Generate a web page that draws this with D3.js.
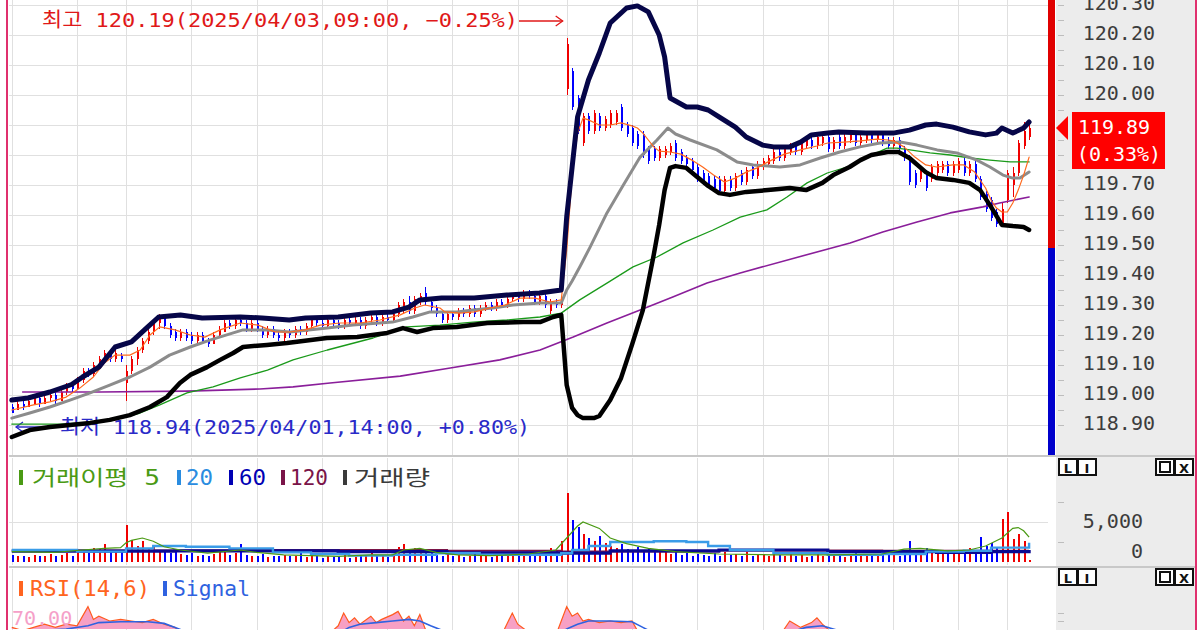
<!DOCTYPE html>
<html>
<head>
<meta charset="utf-8">
<script src="https://cdn.jsdelivr.net/npm/d3@7"></script>
<style>
body { margin: 0; background: #fff; }
svg { display: block; }
</style>
</head>
<body>
<div id="chart"></div>
<script>
// 5-minute sessions shown on the chart
var sessions = [
  {date: "2025/04/01", start: "14:00", count: 21},
  {date: "2025/04/02", start: "09:00", count: 81},
  {date: "2025/04/03", start: "09:00", count: 81},
  {date: "2025/04/04", start: "09:00", count: 5}
];

var open = [
  118.96,118.95,118.97,118.96,118.97,118.99,118.97,118.99,119.00,118.98,
  119.01,119.03,119.02,119.05,119.08,119.07,119.10,119.12,119.14,119.12,
  119.13,119.04,119.08,119.12,119.15,119.18,119.21,119.24,119.26,119.23,
  119.21,119.19,119.21,119.20,119.18,119.20,119.18,119.17,119.20,119.21,
  119.24,119.23,119.25,119.24,119.22,119.24,119.22,119.20,119.22,119.20,
  119.19,119.21,119.20,119.22,119.21,119.23,119.25,119.24,119.23,119.25,
  119.24,119.23,119.25,119.24,119.25,119.23,119.25,119.26,119.24,119.26,
  119.25,119.27,119.29,119.31,119.28,119.31,119.34,119.31,119.29,119.27,
  119.25,119.27,119.26,119.28,119.27,119.29,119.27,119.29,119.30,119.29,
  119.31,119.30,119.32,119.33,119.32,119.34,119.33,119.31,119.33,119.28,
  119.31,119.30,120.02,120.08,119.99,119.84,119.93,119.88,119.93,119.89,
  119.90,119.91,119.96,119.90,119.89,119.87,119.87,119.82,119.82,119.79,
  119.80,119.81,119.84,119.81,119.79,119.78,119.76,119.74,119.73,119.72,
  119.72,119.68,119.72,119.69,119.74,119.71,119.76,119.73,119.76,119.77,
  119.78,119.81,119.79,119.81,119.83,119.81,119.83,119.85,119.83,119.84,
  119.86,119.82,119.86,119.83,119.85,119.87,119.84,119.85,119.87,119.85,
  119.87,119.85,119.83,119.85,119.82,119.79,119.74,119.72,119.74,119.72,
  119.74,119.75,119.77,119.74,119.75,119.78,119.74,119.77,119.72,119.67,
  119.65,119.61,119.57,119.65,119.70,119.74,119.83,119.86
];
var high = [
  118.97,118.98,118.98,118.99,119.00,119.00,119.00,119.01,119.01,119.02,
  119.04,119.04,119.06,119.09,119.09,119.11,119.13,119.15,119.15,119.15,
  119.14,119.10,119.13,119.16,119.19,119.22,119.25,119.27,119.26,119.24,
  119.22,119.22,119.22,119.21,119.21,119.21,119.19,119.21,119.23,119.25,
  119.25,119.26,119.26,119.25,119.25,119.25,119.23,119.23,119.23,119.21,
  119.22,119.22,119.23,119.23,119.24,119.26,119.26,119.25,119.26,119.26,
  119.25,119.26,119.26,119.26,119.26,119.26,119.27,119.27,119.27,119.27,
  119.28,119.31,119.32,119.33,119.33,119.34,119.36,119.32,119.30,119.28,
  119.28,119.28,119.29,119.29,119.30,119.30,119.30,119.31,119.31,119.32,
  119.32,119.33,119.34,119.34,119.35,119.35,119.34,119.34,119.34,119.32,
  119.32,119.33,120.19,120.09,120.00,119.94,119.94,119.95,119.94,119.93,
  119.95,119.95,119.97,119.91,119.90,119.88,119.88,119.83,119.83,119.83,
  119.83,119.84,119.85,119.82,119.80,119.79,119.77,119.75,119.74,119.73,
  119.73,119.73,119.73,119.74,119.75,119.76,119.77,119.78,119.79,119.80,
  119.82,119.82,119.83,119.84,119.84,119.85,119.86,119.86,119.87,119.87,
  119.87,119.86,119.87,119.87,119.88,119.88,119.87,119.88,119.88,119.88,
  119.88,119.86,119.86,119.86,119.83,119.80,119.75,119.76,119.75,119.77,
  119.78,119.78,119.78,119.78,119.79,119.79,119.78,119.78,119.73,119.68,
  119.66,119.62,119.64,119.75,119.76,119.85,119.91,119.91
];
var low = [
  118.94,118.95,118.95,118.96,118.97,118.96,118.97,118.98,118.97,118.98,
  119.00,119.01,119.02,119.04,119.06,119.06,119.09,119.11,119.11,119.11,
  119.11,118.98,119.07,119.10,119.14,119.17,119.20,119.22,119.22,119.19,
  119.18,119.18,119.18,119.17,119.17,119.17,119.16,119.17,119.19,119.21,
  119.22,119.22,119.23,119.21,119.21,119.21,119.19,119.19,119.19,119.18,
  119.18,119.19,119.19,119.20,119.20,119.22,119.23,119.22,119.22,119.23,
  119.22,119.22,119.23,119.23,119.22,119.22,119.24,119.23,119.23,119.24,
  119.24,119.26,119.27,119.27,119.27,119.30,119.30,119.28,119.26,119.24,
  119.24,119.25,119.25,119.26,119.26,119.26,119.26,119.28,119.28,119.28,
  119.29,119.29,119.31,119.31,119.31,119.32,119.30,119.30,119.29,119.27,
  119.29,119.29,120.00,119.95,119.87,119.83,119.87,119.87,119.88,119.88,
  119.89,119.90,119.88,119.86,119.83,119.82,119.79,119.77,119.78,119.78,
  119.79,119.80,119.78,119.77,119.76,119.74,119.71,119.70,119.69,119.68,
  119.67,119.67,119.68,119.68,119.70,119.70,119.72,119.72,119.75,119.76,
  119.77,119.78,119.78,119.80,119.80,119.80,119.82,119.82,119.82,119.83,
  119.81,119.81,119.82,119.82,119.84,119.83,119.83,119.84,119.84,119.84,
  119.83,119.82,119.82,119.81,119.78,119.70,119.69,119.71,119.68,119.71,
  119.73,119.74,119.73,119.73,119.74,119.73,119.73,119.71,119.65,119.61,
  119.58,119.56,119.56,119.64,119.66,119.73,119.82,119.85
];
var close = [
  118.94,118.97,118.96,118.98,118.99,118.97,118.99,119.00,118.98,119.01,
  119.03,119.02,119.05,119.08,119.07,119.10,119.12,119.14,119.12,119.14,
  119.12,119.08,119.12,119.15,119.18,119.21,119.24,119.26,119.23,119.20,
  119.19,119.21,119.19,119.18,119.20,119.18,119.17,119.20,119.22,119.24,
  119.23,119.25,119.24,119.22,119.24,119.22,119.20,119.22,119.20,119.19,
  119.21,119.20,119.22,119.21,119.23,119.25,119.24,119.23,119.25,119.24,
  119.23,119.25,119.24,119.25,119.23,119.25,119.26,119.24,119.26,119.25,
  119.27,119.30,119.31,119.28,119.32,119.33,119.31,119.29,119.27,119.25,
  119.27,119.26,119.28,119.27,119.29,119.27,119.29,119.30,119.29,119.31,
  119.30,119.32,119.33,119.32,119.34,119.33,119.31,119.33,119.30,119.31,
  119.30,119.32,120.17,119.96,119.88,119.93,119.88,119.94,119.89,119.92,
  119.94,119.94,119.89,119.87,119.84,119.83,119.80,119.78,119.79,119.82,
  119.82,119.83,119.79,119.78,119.77,119.75,119.72,119.71,119.70,119.69,
  119.68,119.72,119.69,119.73,119.71,119.75,119.73,119.77,119.78,119.79,
  119.81,119.79,119.82,119.83,119.81,119.84,119.85,119.83,119.86,119.86,
  119.82,119.85,119.83,119.86,119.87,119.84,119.86,119.87,119.85,119.87,
  119.84,119.83,119.85,119.82,119.79,119.71,119.70,119.75,119.69,119.76,
  119.77,119.77,119.74,119.77,119.78,119.74,119.77,119.72,119.66,119.62,
  119.59,119.57,119.62,119.74,119.74,119.84,119.88,119.89
];
var volume = [
  900,700,800,600,900,700,800,1000,700,900,1100,800,1200,1500,1100,1700,1600,2200,1300,1500,1200,
  4600,
  2800,2000,2600,1800,2100,1500,1300,1100,1200,
  1000,900,1100,800,900,700,1000,1200,1500,900,1100,2200,900,800,700,1000,600,800,700,900,
  800,700,1300,600,900,700,500,800,600,700,900,500,600,800,700,1200,900,700,600,1000,
  1900,2300,1200,1800,1500,1400,1100,900,800,1000,700,900,600,800,1000,700,900,600,800,700,
  1000,900,1200,800,1100,900,1300,1000,1800,1400,2600,
  8600,
  5200,4400,3500,3000,2600,3200,2400,2000,1800,2200,1600,1500,1900,1400,1600,1200,1300,1500,
  1000,1200,900,1100,800,1000,900,700,1100,800,1300,900,1000,700,1200,800,900,1000,700,1100,
  900,800,1000,700,900,600,800,1000,700,900,800,1000,600,900,1100,700,800,1000,900,1200,
  900,1100,800,1300,2600,1400,1000,1800,1200,1000,1300,1100,1500,1200,1400,1700,1500,3100,
  2000,2400,1900,5400,6300,2900,3500,2600,300
];
var prevClose = 119.49;

// indicator lines, as [bar index, value]
var ma5 = [[0,118.95],[4,118.967],[7,118.977],[10,118.993],[12.5,119.023],[15,119.06],[17,119.107],[19,119.133],
  [21.7,119.133],[23.6,119.15],[25.4,119.2],[27.2,119.227],[30,119.217],[32.8,119.2],[35.5,119.193],[38.3,119.217],
  [42,119.24],[45.3,119.233],[48.4,119.21],[51.1,119.21],[53.9,119.217],[56.7,119.233],[60.3,119.24],[64,119.24],
  [67.7,119.25],[71.4,119.267],[74.1,119.29],[75.9,119.3],[78.7,119.29],[79.6,119.277],[82.4,119.273],[85.1,119.277],
  [87.9,119.29],[90.7,119.3],[93.4,119.323],[96.2,119.323],[98.9,119.31],[101,119.317],[102,119.483],[103,119.733],
  [104,119.873],[105,119.923],[106,119.917],[108,119.9],[110,119.9],[112,119.907],[114,119.897],[115,119.89],
  [116,119.873],[117,119.85],[118,119.827],[119,119.813],[121,119.81],[123,119.803],[125,119.783],[127,119.76],
  [129,119.733],[131,119.71],[133,119.723],[135,119.743],[137,119.757],[139,119.777],[142,119.803],[145,119.817],
  [148,119.83],[150,119.84],[153,119.843],[156,119.847],[159,119.853],[161,119.85],[162,119.847],[164,119.827],
  [166,119.793],[168,119.767],[170,119.76],[173,119.767],[175,119.767],[177,119.743],[179,119.69],[180,119.65],
  [181,119.623],[182,119.61],[183,119.61],[184,119.64],[185,119.683],[186,119.733],[187,119.793]];
var ma20 = [[0,118.923],[3.3,118.94],[7,118.96],[10.7,118.983],[14.4,119.007],[18,119.033],[21.7,119.06],[25.4,119.093],
  [29,119.133],[32.8,119.16],[36.4,119.183],[40.7,119.207],[42.5,119.217],[46.9,119.217],[51.1,119.21],[58,119.223],
  [62.7,119.233],[70,119.243],[73.7,119.26],[76.9,119.277],[81.8,119.277],[84.8,119.283],[88.4,119.29],[92.1,119.3],
  [97.1,119.307],[101,119.307],[102,119.35],[103,119.38],[104.5,119.43],[106.3,119.493],[109.4,119.607],[112.2,119.693],
  [115.5,119.793],[118.6,119.85],[120.6,119.89],[122,119.87],[124.7,119.85],[129.6,119.817],[133.3,119.777],[136.3,119.767],
  [141.2,119.76],[144.9,119.767],[148.6,119.79],[152.2,119.81],[155.9,119.827],[159.6,119.84],[163.3,119.843],[166.4,119.833],
  [170.1,119.817],[173.7,119.807],[177.4,119.783],[179.8,119.76],[182.2,119.733],[184,119.723],[185.3,119.723],[187,119.743]];
var bandUpper = [[0,118.983],[3,118.99],[7,119.01],[11,119.035],[13,119.06],[16,119.093],[19,119.16],[22,119.177],
  [25,119.227],[27,119.26],[31,119.267],[35,119.257],[42,119.26],[46,119.257],[51,119.25],[54,119.257],[60,119.26],
  [66,119.273],[70,119.277],[73,119.293],[75,119.317],[79,119.323],[85,119.323],[91,119.333],[97,119.34],[101,119.35],
  [102,119.593],[103,119.76],[104,119.927],[106,120.05],[108,120.14],[110,120.24],[113,120.29],[115,120.297],
  [117,120.277],[119,120.2],[120,120.127],[121,119.99],[124,119.96],[126,119.96],[128,119.95],[130,119.927],
  [133,119.893],[135,119.86],[138,119.833],[140,119.827],[143,119.827],[145,119.843],[147,119.867],[150,119.873],
  [152,119.877],[157,119.873],[162,119.873],[165,119.883],[168,119.9],[170,119.903],[173,119.893],[176,119.877],
  [179,119.867],[181,119.873],[182,119.89],[184,119.873],[186,119.89],[187,119.91]];
var bandLower = [[0,118.86],[3.3,118.883],[7,118.893],[10.7,118.9],[14.4,118.907],[18,118.917],[21.7,118.933],
  [25.4,118.96],[28.5,118.993],[30.9,119.04],[32.8,119.067],[35.9,119.093],[38.3,119.117],[40.7,119.14],[42.5,119.16],
  [46.9,119.167],[50.6,119.173],[57.9,119.19],[63.5,119.193],[69,119.207],[71.9,119.223],[74.5,119.21],[77.4,119.223],
  [81.8,119.227],[87.4,119.24],[94,119.243],[97.1,119.243],[99.5,119.26],[101,119.267],[102,119.033],[103,118.957],
  [104,118.933],[105,118.923],[107,118.923],[108,118.93],[110,118.983],[112,119.057],[114,119.167],[116,119.283],
  [118,119.467],[119,119.567],[120,119.683],[121,119.757],[122,119.763],[124,119.757],[126,119.727],[128,119.697],
  [130,119.673],[132,119.667],[135,119.677],[139,119.683],[143,119.69],[146,119.683],[149,119.707],[151,119.733],
  [154,119.76],[156,119.783],[158,119.8],[161,119.81],[163,119.81],[165,119.79],[168,119.743],[170,119.723],
  [173,119.717],[176,119.707],[178,119.683],[180,119.627],[182,119.567],[184,119.563],[186,119.56],[187,119.55]];
var ma60 = [[0,118.903],[9,118.903],[18,118.913],[23.6,118.94],[27.2,118.967],[32.2,119.007],[37,119.027],[42,119.057],
  [47,119.083],[51.7,119.117],[58,119.15],[66.4,119.19],[72.6,119.227],[78.7,119.233],[84.8,119.243],[91,119.25],
  [97.1,119.26],[101,119.273],[104.4,119.317],[109.4,119.373],[114.2,119.427],[118.6,119.46],[123.4,119.507],
  [128.9,119.55],[133.9,119.593],[138.8,119.617],[142.5,119.66],[146.2,119.707],[149.9,119.74],[153.5,119.76],
  [157.2,119.793],[160.9,119.823],[162.7,119.823],[165.1,119.817],[168.8,119.807],[172.5,119.8],[176.2,119.79],
  [179.8,119.783],[183.5,119.777],[187,119.777]];
var ma120 = [[2,119.01],[16.2,119.01],[32.2,119.013],[45.6,119.02],[51.7,119.027],[58.5,119.04],[71.4,119.063],
  [80.6,119.09],[89.7,119.117],[97.1,119.15],[103.2,119.193],[109.4,119.24],[115.5,119.283],[121.5,119.327],
  [127.8,119.373],[133.9,119.407],[154.1,119.507],[160.1,119.543],[166.4,119.577],[172.5,119.607],[178.5,119.627],
  [181.6,119.64],[187,119.66]];

// volume moving averages
var volMa5 = [[0,1300],[8,1200],[13,1500],[17,1700],[20,1800],[21,2400],[22,2700],[24,3000],[26,2600],[28,1900],
  [31,1500],[36,1100],[42,1500],[45,1200],[50,900],[55,800],[60,700],[66,900],[70,900],[72,1500],[75,1700],
  [78,1200],[82,900],[88,800],[95,1000],[100,1500],[102,3000],[104,4500],[105,5000],[108,4200],[110,3000],
  [113,2300],[117,1700],[122,1300],[130,1000],[140,900],[150,900],[160,1000],[164,1600],[167,1700],[172,1400],
  [176,1500],[179,2000],[182,3000],[184,4200],[185,4300],[186,3900],[187,3100]];
var volMa20 = [[0,1500],[12,1300],[21,1700],[26,2000],[32,1900],[40,1700],[48,1200],[55,1000],[62,800],[70,900],
  [78,1100],[86,900],[95,900],[101,1100],[103,1500],[106,2000],[110,2500],[118,2600],[124,2500],[128,2000],
  [132,1500],[140,1100],[150,900],[160,1000],[168,1300],[175,1400],[180,1800],[187,2400]];
var volMa60 = [[0,1350],[30,1400],[60,1300],[80,1150],[101,1100],[110,1400],[130,1500],[150,1300],[170,1200],
  [180,1300],[187,1500]];
var volMa120 = [[0,1450],[40,1500],[80,1400],[101,1300],[130,1450],[160,1400],[187,1450]];

// RSI(14,6) and its signal
var rsi = [[0,71],[2,69],[4,71],[6,73],[8,71],[10,73],[12,72],[14,84],[15,76],[16,78],[18,75],[20,76],[22,75],
  [24,74],[26,76],[28,73],[30,71],[32,66],[40,60],[50,62],[58,66],[60,72],[61,80],[62,74],[63,77],[64,73],[66,78],
  [67,74],[68,76],[70,79],[71,81],[72,75],[73,78],[74,72],[75,79],[76,70],[78,64],[85,60],[90,66],[92,80],[93,73],
  [95,68],[98,62],[100,66],[101,75],[102,84],[103,78],[104,80],[105,75],[106,76],[108,74],[110,75],[112,74],
  [114,75],[115,69],[120,55],[130,48],[140,60],[142,70],[143,75],[144,73],[145,71],[147,74],[148,77],[149,73],
  [150,70],[152,64],[160,60],[170,50],[180,40],[187,60]];
var rsiSignal = [[0,68],[10,70],[14,72],[16,74],[20,74.5],[25,74.5],[28,73.5],[30,71],[33,67],[55,62],[60,67],
  [62,71],[64,73],[67,74],[70,75],[73,76],[75,75],[77,72],[80,68],[92,69],[95,67],[100,66],[102,70],[104,73],
  [106,75],[110,75],[114,74.5],[116,71],[120,64],[140,58],[144,69],[146,71],[149,72],[151,70],[155,66],[187,50]];

var priceTicks = [118.9,119.0,119.1,119.2,119.3,119.4,119.5,119.6,119.7,119.8,119.9,120.0,120.1,120.2,120.3];
var volTicks = [0, 5000];

// bar times
var times = [];
sessions.forEach(function(s) {
  var p = s.start.split(":"), m0 = +p[0] * 60 + +p[1];
  for (var k = 0; k < s.count; k++) {
    var t = m0 + k * 5;
    times.push(s.date + "," + d3.format("02")(Math.floor(t / 60)) + ":" + d3.format("02")(t % 60));
  }
});
var gridIdx = [];
times.forEach(function(t, i) { if (t.slice(-3) === ":00") gridIdx.push(i); });

var W = 1200, H = 630;
var plotL = 9, plotR = 1048;
var x = d3.scaleLinear().domain([0, 187]).range([11.8, 1029.1]);
var yP = d3.scaleLinear().domain([118.9, 120.0]).range([425, 95]);
var yV = d3.scaleLinear().domain([0, 5000]).range([562, 522]);
var yR = d3.scaleLinear().domain([70, 100]).range([629, 581]);

var mono = "'DejaVu Sans Mono', 'Noto Sans CJK KR', monospace";
var svg = d3.select("#chart").append("svg")
  .attr("width", W).attr("height", H)
  .style("font-family", mono);

svg.append("rect").attr("width", W).attr("height", H).attr("fill", "#fff");
svg.append("rect").attr("x", 1056).attr("y", 0).attr("width", 140).attr("height", H).attr("fill", "#ececec");

var defs = svg.append("defs");
function clip(id, y0, y1) {
  defs.append("clipPath").attr("id", id).append("rect")
    .attr("x", plotL).attr("y", y0).attr("width", plotR - plotL).attr("height", y1 - y0);
}
clip("cMain", 0, 455);
clip("cVol", 486, 565);
clip("cRsi", 570, 629);

// grid
var grid = svg.append("g").attr("stroke", "#e0e0e0").attr("stroke-width", 1).attr("shape-rendering", "crispEdges");
[[0, 455], [458, 565], [569, 630]].forEach(function(r) {
  grid.selectAll(null).data(gridIdx).enter().append("line")
    .attr("x1", function(i) { return Math.round(x(i)) + 0.5; })
    .attr("x2", function(i) { return Math.round(x(i)) + 0.5; })
    .attr("y1", r[0]).attr("y2", r[1]);
});
grid.selectAll(null).data(priceTicks).enter().append("line")
  .attr("x1", plotL).attr("x2", plotR)
  .attr("y1", function(d) { return Math.round(yP(d)) + 0.5; })
  .attr("y2", function(d) { return Math.round(yP(d)) + 0.5; });
grid.append("line").attr("x1", plotL).attr("x2", plotR)
  .attr("y1", Math.round(yV(5000)) + 0.5).attr("y2", Math.round(yV(5000)) + 0.5);

// panel separators
svg.append("g").attr("fill", "#c8c8c8").selectAll("rect").data([455, 566]).enter().append("rect")
  .attr("x", plotL).attr("y", function(d) { return d; }).attr("width", 1196 - plotL).attr("height", 2);

// high / low notes
var hiIdx = d3.maxIndex(high), loIdx = d3.minIndex(low);
var last = close[close.length - 1];
var pct = d3.format("+.2f");
var hiText = "최고 " + high[hiIdx].toFixed(2) + "(" + times[hiIdx] + ", " + pct((last / high[hiIdx] - 1) * 100).replace("+", "") + "%)";
var loText = "최저 " + low[loIdx].toFixed(2) + "(" + times[loIdx] + ", " + pct((last / low[loIdx] - 1) * 100) + "%)";

svg.append("text").attr("x", 42).attr("y", 20).attr("dominant-baseline", "central")
  .attr("fill", "#e01818").attr("font-size", 20)
  .attr("textLength", 476).attr("lengthAdjust", "spacingAndGlyphs").text(hiText);
var ar = svg.append("g").attr("stroke", "#e01818").attr("stroke-width", 1.3).attr("fill", "none");
ar.append("line").attr("x1", 519).attr("x2", x(hiIdx) - 4).attr("y1", 21).attr("y2", 21);
ar.append("path").attr("d", "M" + (x(hiIdx) - 11) + ",16L" + (x(hiIdx) - 4) + ",21L" + (x(hiIdx) - 11) + ",26");

var main = svg.append("g").attr("clip-path", "url(#cMain)");
main.append("text").attr("x", 60).attr("y", 427).attr("dominant-baseline", "central")
  .attr("fill", "#2a2ac8").attr("font-size", 20)
  .attr("textLength", 470).attr("lengthAdjust", "spacingAndGlyphs").text(loText);
var al = main.append("g").attr("stroke", "#2a2ac8").attr("stroke-width", 1.3).attr("fill", "none");
al.append("line").attr("x1", 16).attr("x2", 50).attr("y1", 427).attr("y2", 427);
al.append("path").attr("d", "M23,422L16,427L23,432");

// candles
var bars = d3.range(close.length);
function col(i) { return close[i] >= open[i] ? "#f00000" : "#0000ff"; }
var cg = main.append("g").attr("shape-rendering", "crispEdges");
cg.selectAll("line").data(bars).enter().append("line")
  .attr("x1", function(i) { return Math.round(x(i)) + 0.5; })
  .attr("x2", function(i) { return Math.round(x(i)) + 0.5; })
  .attr("y1", function(i) { return yP(high[i]); })
  .attr("y2", function(i) { return yP(low[i]); })
  .attr("stroke", col).attr("stroke-width", 1);
cg.selectAll("rect").data(bars).enter().append("rect")
  .attr("x", function(i) { return Math.round(x(i)) - 0.5; })
  .attr("width", 2)
  .attr("y", function(i) { return yP(Math.max(open[i], close[i])); })
  .attr("height", function(i) { return Math.max(1, Math.abs(yP(open[i]) - yP(close[i]))); })
  .attr("fill", col);

// indicator lines
var lineP = d3.line().x(function(d) { return x(d[0]); }).y(function(d) { return yP(d[1]); });
[
  [ma120, "#8a1e9a", 1.6],
  [ma60, "#1a9a1a", 1.3],
  [ma20, "#8c8c8c", 3],
  [ma5, "#ff6a1e", 1.2],
  [bandUpper, "#060648", 5],
  [bandLower, "#000000", 4.5]
].forEach(function(s) {
  main.append("path").datum(s[0]).attr("d", lineP)
    .attr("fill", "none").attr("stroke", s[1]).attr("stroke-width", s[2])
    .attr("stroke-linejoin", "round").attr("stroke-linecap", "round");
});

// price axis
var last_y = yP(last);
svg.append("rect").attr("x", 1048).attr("y", 0).attr("width", 7).attr("height", yP(prevClose)).attr("fill", "#e00000");
svg.append("rect").attr("x", 1048).attr("y", yP(prevClose)).attr("width", 7).attr("height", 455 - yP(prevClose)).attr("fill", "#0000cc");
var minor = d3.pairs(priceTicks).map(function(p) { return (p[0] + p[1]) / 2; });
svg.append("g").attr("stroke", "#bdbdbd").selectAll("line").data(priceTicks.concat(minor)).enter().append("line")
  .attr("x1", 1058).attr("x2", 1064)
  .attr("y1", function(d) { return Math.round(yP(d)) + 0.5; })
  .attr("y2", function(d) { return Math.round(yP(d)) + 0.5; });
// labels hidden behind the current price tag are left out
var shownTicks = priceTicks.filter(function(d) { return yP(d) < last_y - 22 || yP(d) > last_y + 46; });
svg.append("g").selectAll("text").data(shownTicks).enter().append("text")
  .attr("x", 1155).attr("y", function(d) { return yP(d) - 2; })
  .attr("text-anchor", "end").attr("dominant-baseline", "central")
  .attr("font-size", 20).attr("fill", "#3c3c3c")
  .text(d3.format(".2f"));

// current price tag
svg.append("path").attr("d", "M1056," + last_y + "L1068," + (last_y - 12) + "L1068," + (last_y + 12) + "Z").attr("fill", "#ff0000");
svg.append("rect").attr("x", 1072).attr("y", last_y - 16).attr("width", 93).attr("height", 57).attr("fill", "#ff0000");
svg.append("text").attr("x", 1114).attr("y", last_y - 1).attr("text-anchor", "middle").attr("dominant-baseline", "central")
  .attr("font-size", 20).attr("fill", "#fff").text(last.toFixed(2));
svg.append("text").attr("x", 1119).attr("y", last_y + 26).attr("text-anchor", "middle").attr("dominant-baseline", "central")
  .attr("font-size", 20).attr("fill", "#fff")
  .text("(" + ((last / prevClose - 1) * 100).toFixed(2) + "%)");

// volume panel
var vol = svg.append("g").attr("clip-path", "url(#cVol)");
vol.append("g").attr("shape-rendering", "crispEdges").selectAll("rect").data(bars).enter().append("rect")
  .attr("x", function(i) { return Math.round(x(i)) - 0.5; })
  .attr("width", 2)
  .attr("y", function(i) { return yV(volume[i]); })
  .attr("height", function(i) { return yV(0) - yV(volume[i]); })
  .attr("fill", col);
var stepV = d3.line().x(function(d) { return x(d[0]); }).y(function(d) { return yV(d[1]); }).curve(d3.curveStepAfter);
var lineV = d3.line().x(function(d) { return x(d[0]); }).y(function(d) { return yV(d[1]); });
[
  [volMa120, "#7a1448", 2, stepV],
  [volMa60, "#0a0a90", 3.2, stepV],
  [volMa20, "#3a9ce8", 2.4, stepV],
  [volMa5, "#4a9a14", 1.2, lineV]
].forEach(function(s) {
  vol.append("path").datum(s[0]).attr("d", s[3])
    .attr("fill", "none").attr("stroke", s[1]).attr("stroke-width", s[2]);
});
svg.append("g").attr("stroke", "#bdbdbd").selectAll("line").data([2500, 7500]).enter().append("line")
  .attr("x1", 1058).attr("x2", 1064)
  .attr("y1", function(d) { return Math.round(yV(d)) + 0.5; })
  .attr("y2", function(d) { return Math.round(yV(d)) + 0.5; });
svg.append("g").selectAll("text").data(volTicks).enter().append("text")
  .attr("x", 1143).attr("y", function(d) { return d === 0 ? yV(d) - 11 : yV(d) - 1; })
  .attr("text-anchor", "end").attr("dominant-baseline", "central")
  .attr("font-size", 20).attr("fill", "#3c3c3c")
  .text(d3.format(","));

// legends
function legend(items, y) {
  var g = svg.append("g");
  items.forEach(function(it) {
    g.append("rect").attr("x", it.bx).attr("y", y - 8).attr("width", 4).attr("height", 15).attr("fill", it.color);
    var t = g.append("text").attr("x", it.tx).attr("y", y).attr("dominant-baseline", "central")
      .attr("font-size", 21).attr("fill", it.color).text(it.label);
    if (it.w) t.attr("textLength", it.w).attr("lengthAdjust", "spacingAndGlyphs");
  });
}
legend([
  {label: "거래이평 5", color: "#4a9a14", bx: 19, tx: 32, w: 128},
  {label: "20", color: "#2a8ce0", bx: 177, tx: 186, w: 27},
  {label: "60", color: "#0000b4", bx: 229, tx: 239, w: 27},
  {label: "120", color: "#7a1448", bx: 281, tx: 290, w: 38},
  {label: "거래량", color: "#3a3a3a", bx: 343, tx: 354, w: 76}
], 478);
legend([
  {label: "RSI(14,6)", color: "#ff6420", bx: 19, tx: 30, w: 120},
  {label: "Signal", color: "#2f62e0", bx: 163, tx: 173, w: 77}
], 589);

// RSI panel
var rs = svg.append("g").attr("clip-path", "url(#cRsi)");
rs.append("path").datum(rsi)
  .attr("d", d3.area().x(function(d) { return x(d[0]); }).y0(yR(70)).y1(function(d) { return yR(d[1]); }))
  .attr("fill", "#f7a0c4");
rs.append("path").datum(rsi)
  .attr("d", d3.line().x(function(d) { return x(d[0]); }).y(function(d) { return yR(d[1]); }))
  .attr("fill", "none").attr("stroke", "#ff5a1e").attr("stroke-width", 1.2);
rs.append("path").datum(rsiSignal)
  .attr("d", d3.line().x(function(d) { return x(d[0]); }).y(function(d) { return yR(d[1]); }))
  .attr("fill", "none").attr("stroke", "#2f62e0").attr("stroke-width", 1.6);
svg.append("text").attr("x", 12).attr("y", yR(70) - 11).attr("dominant-baseline", "central")
  .attr("font-size", 20).attr("fill", "#f5a0c8").text("70.00");
svg.append("g").attr("stroke", "#bdbdbd").selectAll("line").data([80, 75]).enter().append("line")
  .attr("x1", 1058).attr("x2", 1064)
  .attr("y1", function(d) { return Math.round(yR(d)) + 0.5; })
  .attr("y2", function(d) { return Math.round(yR(d)) + 0.5; });

// panel buttons
function buttons(y) {
  var g = svg.append("g").attr("font-family", "'DejaVu Sans', sans-serif").attr("font-weight", "bold").attr("font-size", 13);
  [[1058, "L"], [1077, "I"]].forEach(function(b) {
    g.append("rect").attr("x", b[0] + 1).attr("y", y + 1).attr("width", 18).attr("height", 16)
      .attr("fill", "#fff").attr("stroke", "#111").attr("stroke-width", 2);
    g.append("text").attr("x", b[0] + 10).attr("y", y + 10).attr("text-anchor", "middle")
      .attr("dominant-baseline", "central").attr("fill", "#111").text(b[1]);
  });
  [[1155, ""], [1174, "X"]].forEach(function(b) {
    g.append("rect").attr("x", b[0] + 1).attr("y", y + 1).attr("width", 18).attr("height", 16)
      .attr("fill", "#fff").attr("stroke", "#111").attr("stroke-width", 2);
    if (b[1]) g.append("text").attr("x", b[0] + 10).attr("y", y + 10).attr("text-anchor", "middle")
      .attr("dominant-baseline", "central").attr("fill", "#111").text(b[1]);
    else g.append("rect").attr("x", b[0] + 5).attr("y", y + 4).attr("width", 10).attr("height", 10)
      .attr("fill", "none").attr("stroke", "#111").attr("stroke-width", 2);
  });
}
buttons(458);
buttons(568);

// frame
svg.append("g").attr("fill", "#e0306e").selectAll("rect").data([6, 1195]).enter().append("rect")
  .attr("x", function(d) { return d; }).attr("y", 0).attr("width", 2).attr("height", H);
</script>
</body>
</html>
